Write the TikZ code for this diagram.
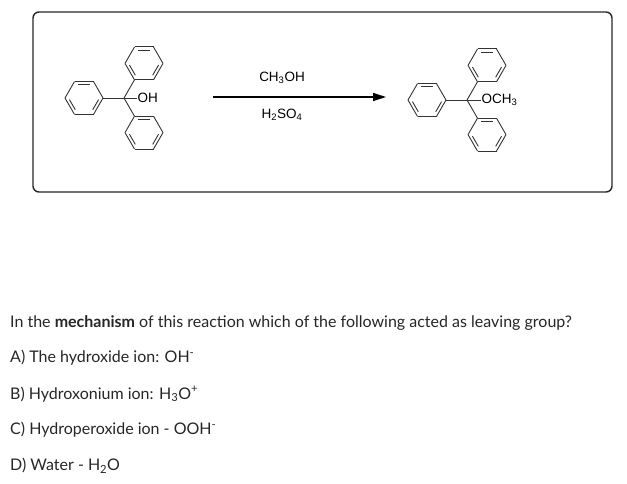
\documentclass[tikz,border=0pt]{standalone}
\usepackage{fontspec}
\setmainfont{Lato}
\newfontfamily\chemfont{Liberation Sans}
\usetikzlibrary{arrows.meta,calc}
\tikzset{
  bond/.style={draw=black!80, line width=0.9pt},
  chemlbl/.style={font=\chemfont\fontsize{13.5}{15}\selectfont, inner sep=0.5pt},
  qtext/.style={font=\fontsize{16}{18}\selectfont, anchor=west, inner sep=0pt, text=black!85},
  benz/.pic={
    \foreach \a in {0,60,...,300}{\draw[bond] (\a:19) -- (\a+60:19);}
    \foreach \a in {0,120,240}{\draw[bond] ($(\a:15.5)!0.12!(\a+60:15.5)$) -- ($(\a:15.5)!0.88!(\a+60:15.5)$);}
  }
}
\begin{document}
\begin{tikzpicture}[x=1pt,y=-1pt]
\useasboundingbox (0,0) rectangle (627,483);
\draw[black!85, line width=1.4pt, rounded corners=6pt] (33,12) rectangle (612,192);
% left molecule
\coordinate (c1) at (124,98);
\pic at (84,98) {benz};
\pic at (144,63.4) {benz};
\pic at (144,132.6) {benz};
\draw[bond] (c1) -- (103,98);
\draw[bond] (c1) -- (134.5,79.8);
\draw[bond] (c1) -- (134.5,116.2);
\node[chemlbl, anchor=west] (oh) at (137,98) {OH};
\draw[bond] (c1) -- (oh.west);
% right molecule
\coordinate (c2) at (467,100);
\pic at (427,100) {benz};
\pic at (487,65.4) {benz};
\pic at (487,134.6) {benz};
\draw[bond] (c2) -- (446,100);
\draw[bond] (c2) -- (477.5,81.8);
\draw[bond] (c2) -- (477.5,118.2);
\node[chemlbl, anchor=west] (och) at (481,100) {OCH\textsubscript{3}};
\draw[bond] (c2) -- (och.west);
% arrow
\coordinate (a1) at (213,97);
\coordinate (a2) at (386,97);
\draw[black, line width=1.2pt, -{Triangle[length=13pt,width=8pt]}] (a1) -- (a2);
\node[chemlbl] (r1) at (282,78) {CH\textsubscript{3}OH};
\node[chemlbl] (r2) at (282,115) {H\textsubscript{2}SO\textsubscript{4}};
% text
\node[qtext] (q) at (10,323) {In the \textbf{mechanism} of this reaction which of the following acted as leaving group?};
\node[qtext] (a) at (10,358) {A) The hydroxide ion: OH\textsuperscript{-}};
\node[qtext] (b) at (10,394) {B) Hydroxonium ion: H\textsubscript{3}O\textsuperscript{+}};
\node[qtext] (c) at (10,430) {C) Hydroperoxide ion - OOH\textsuperscript{-}};
\node[qtext] (d) at (10,466) {D) Water - H\textsubscript{2}O};
\end{tikzpicture}
\end{document}
